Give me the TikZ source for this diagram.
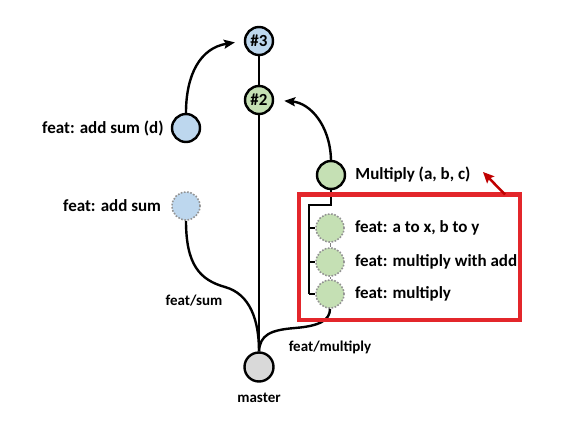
\documentclass[tikz,border=0pt]{standalone}
\usepackage{fontspec}
\setmainfont{Carlito}
\usetikzlibrary{arrows.meta,positioning}
\definecolor{commitblue}{HTML}{BDD7EE}
\definecolor{commitgreen}{HTML}{C5E0B4}
\definecolor{commitgray}{HTML}{D9D9D9}
\definecolor{boxred}{HTML}{E3262B}
\definecolor{arrowred}{HTML}{C00000}
\begin{document}
\begin{tikzpicture}[
  x=1pt, y=-1pt,
  font=\bfseries\fontsize{17}{19}\selectfont,
  commit/.style={circle, draw, line width=2.4pt, minimum size=28pt, inner sep=0pt},
  wip/.style={circle, draw=gray!85, line width=1.6pt, dash pattern=on 1.6pt off 1.6pt,
              minimum size=28pt, inner sep=0pt},
  tag/.style={inner sep=0pt},
  branchtag/.style={inner sep=0pt, font=\bfseries\fontsize{15}{17}\selectfont},
  edge/.style={line width=2.4pt},
  flow/.style={edge, -{Stealth[length=11pt, width=9pt, inset=2pt]}}
]
  \useasboundingbox (0,0) rectangle (562,423);

  \node[commit, fill=commitblue]  (c3) at (259,41) {\#3};
  \node[commit, fill=commitgreen] (c2) at (259,100) {\#2};
  \node[commit, fill=commitblue]  (sumd) at (186,128) {};
  \node[wip, fill=commitblue]     (sum) at (186,206) {};
  \node[commit, fill=commitgreen] (mul) at (331,175) {};
  \node[wip, fill=commitgreen]    (g1) at (330,228) {};
  \node[wip, fill=commitgreen]    (g2) at (330,262) {};
  \node[wip, fill=commitgreen]    (g3) at (330,294) {};
  \node[commit, fill=commitgray, minimum size=29pt] (master) at (259,367) {};

  \node[tag, left=7pt of sumd]  (sumdlbl) {feat: add sum (d)};
  \node[tag, left=10pt of sum]  (sumlbl) {feat: add sum};
  \node[tag, right=9pt of mul]  (mullbl) {Multiply (a, b, c)};
  \node[tag, right=10pt of g1]  (g1lbl) {feat: a to x, b to y};
  \node[tag, right=10pt of g2]  (g2lbl) {feat: multiply with add};
  \node[tag, right=10pt of g3]  (g3lbl) {feat: multiply};
  \node[branchtag] (sumbranch) at (194,301) {feat/sum};
  \node[branchtag] (mulbranch) at (330,347) {feat/multiply};
  \node[branchtag, below=10pt of master] (masterlbl) {master};

  \draw[edge] (c3) -- (c2);
  \draw[edge] (c2) -- (master);
  \draw[flow, shorten >=9pt] (sumd.north) .. controls (186,75) and (200,48) .. (c3.west);
  \draw[flow, shorten >=10pt] (mul.north) .. controls (330,125) and (310,103) .. (c2.east);
  \draw[edge] (sum.south) .. controls (186,265) and (200,280) .. (225,287)
              .. controls (250,294) and (259,320) .. (master.north);
  \draw[edge] (master.north) .. controls (260,335) and (270,330) .. (295,328)
              .. controls (320,326) and (330,320) .. (g3.south);

  \coordinate (fork) at (309,205);
  \draw[line width=2pt] (mul.south) |- (fork) -- (fork |- g3);
  \foreach \g in {g1,g2,g3}
    \draw[line width=2pt] (fork |- \g) -- (\g.west);
  \draw[gray, line width=1pt] (g1) -- (g2);
  \draw[gray, line width=1pt] (g2) -- (g3);

  \node[draw=boxred, line width=4.5pt, minimum width=221pt, minimum height=125.5pt,
        inner sep=0pt, outer sep=0pt] (focus) at (409.5,257.25) {};
  \coordinate (hint) at (483,172);
  \draw[arrowred, line width=2.5pt, -{Stealth[length=11pt, width=10pt, inset=2pt]}]
    ([xshift=-15pt]focus.north east) -- (hint);
\end{tikzpicture}
\end{document}
